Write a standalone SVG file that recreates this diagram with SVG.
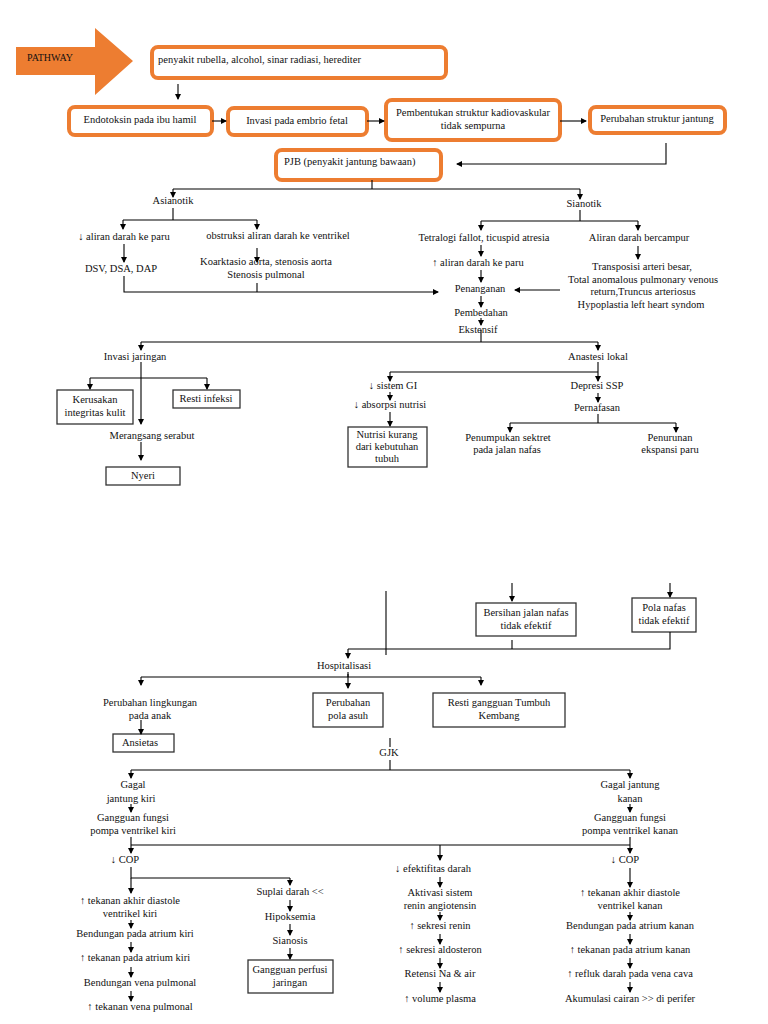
<svg xmlns="http://www.w3.org/2000/svg" width="768" height="1024" viewBox="0 0 768 1024">
<defs>
<marker id="a" markerWidth="6" markerHeight="6" refX="5" refY="3" orient="auto" markerUnits="userSpaceOnUse"><path d="M0,0 L6,3 L0,6 Z" fill="#000"/></marker>
<style>
text{font-family:"Liberation Serif",serif;font-size:10.5px;fill:#111}
.m{text-anchor:middle}
.ob{fill:#fff;stroke:#ed7d31;stroke-width:4}
.bx{fill:#fff;stroke:#333;stroke-width:1.3}
#conn path{fill:none;stroke:#000;stroke-width:1.1}
.ar{marker-end:url(#a)}
</style>
</defs>
<rect width="768" height="1024" fill="#fff"/>
<g id="pathway"><polygon points="16,47 95,47 95,28 133,61 95,95 95,75 16,75" fill="#ed7d31"/><text x="27" y="61" style="font-size:10px">PATHWAY</text></g>
<g id="n1"><rect class="ob" x="152" y="47" width="294" height="31" rx="6"/><text x="158" y="63">penyakit rubella, alcohol, sinar radiasi, herediter</text></g>
<g id="n2"><rect class="ob" x="69" y="107" width="143" height="28" rx="6"/><text class="m" x="140" y="123">Endotoksin pada ibu hamil</text></g>
<g id="n3"><rect class="ob" x="228" y="108" width="139" height="27" rx="6"/><text class="m" x="297" y="124">Invasi pada embrio fetal</text></g>
<g id="n4"><rect class="ob" x="386" y="100" width="174" height="40" rx="6"/><text class="m" x="473" y="116">Pembentukan struktur kadiovaskular</text><text class="m" x="473" y="129">tidak sempurna</text></g>
<g id="n5"><rect class="ob" x="590" y="107" width="135" height="26" rx="6"/><text class="m" x="657" y="122">Perubahan struktur jantung</text></g>
<g id="n6"><rect class="ob" x="276" y="150" width="165" height="30" rx="6"/><text x="284" y="165">PJB (penyakit jantung bawaan)</text></g>

<g id="labels">
<text class="m" x="173" y="204">Asianotik</text>
<text class="m" x="584" y="207">Sianotik</text>
<text class="m" x="124" y="240">↓ aliran darah ke paru</text>
<text class="m" x="278" y="239">obstruksi aliran darah ke ventrikel</text>
<text class="m" x="121" y="272">DSV, DSA, DAP</text>
<text class="m" x="266" y="265">Koarktasio aorta, stenosis aorta</text>
<text class="m" x="266" y="278">Stenosis pulmonal</text>
<text class="m" x="484" y="241">Tetralogi fallot, ticuspid atresia</text>
<text class="m" x="639" y="241">Aliran darah bercampur</text>
<text class="m" x="478" y="266">↑ aliran darah ke paru</text>
<text class="m" x="480" y="292">Penanganan</text>
<text class="m" x="642" y="270">Transposisi arteri besar,</text>
<text class="m" x="643" y="283">Total anomalous pulmonary venous</text>
<text class="m" x="643" y="295">return,Truncus arteriosus</text>
<text class="m" x="641" y="308">Hypoplastia left heart syndom</text>
<text class="m" x="481" y="316">Pembedahan</text>
<text class="m" x="478" y="333">Ekstensif</text>
<text class="m" x="135" y="360">Invasi jaringan</text>
<text class="m" x="598" y="360">Anastesi lokal</text>
<text class="m" x="152" y="439">Merangsang serabut</text>
<text class="m" x="393" y="389">↓ sistem GI</text>
<text class="m" x="390" y="408">↓ absorpsi nutrisi</text>
<text class="m" x="597" y="389">Depresi SSP</text>
<text class="m" x="597" y="411">Pernafasan</text>
<text class="m" x="508" y="441">Penumpukan sektret</text>
<text class="m" x="507" y="453">pada jalan nafas</text>
<text class="m" x="670" y="441">Penurunan</text>
<text class="m" x="670" y="453">ekspansi paru</text>
<text class="m" x="344" y="669">Hospitalisasi</text>
<text class="m" x="150" y="706">Perubahan lingkungan</text>
<text class="m" x="150" y="719">pada anak</text>
<text class="m" x="389" y="756">GJK</text>
<text class="m" x="133" y="788">Gagal</text>
<text class="m" x="131" y="802">jantung kiri</text>
<text class="m" x="630" y="788">Gagal jantung</text>
<text class="m" x="630" y="802">kanan</text>
<text class="m" x="133" y="821">Gangguan fungsi</text>
<text class="m" x="133" y="834">pompa ventrikel kiri</text>
<text class="m" x="630" y="821">Gangguan fungsi</text>
<text class="m" x="630" y="834">pompa ventrikel kanan</text>
<text class="m" x="125" y="863">↓ COP</text>
<text class="m" x="433" y="872">↓ efektifitas darah</text>
<text class="m" x="625" y="863">↓ COP</text>
<text class="m" x="130" y="904">↑ tekanan akhir diastole</text>
<text class="m" x="130" y="917">ventrikel kiri</text>
<text class="m" x="135" y="937">Bendungan pada atrium kiri</text>
<text class="m" x="135" y="961">↑ tekanan pada atrium kiri</text>
<text class="m" x="140" y="986">Bendungan vena pulmonal</text>
<text class="m" x="140" y="1010">↑ tekanan vena pulmonal</text>
<text class="m" x="290" y="895">Suplai darah &lt;&lt;</text>
<text class="m" x="290" y="920">Hipoksemia</text>
<text class="m" x="290" y="944">Sianosis</text>
<text class="m" x="440" y="896">Aktivasi sistem</text>
<text class="m" x="440" y="909">renin angiotensin</text>
<text class="m" x="440" y="929">↑ sekresi renin</text>
<text class="m" x="440" y="953">↑ sekresi aldosteron</text>
<text class="m" x="440" y="977">Retensi Na &amp; air</text>
<text class="m" x="440" y="1002">↑ volume plasma</text>
<text class="m" x="630" y="896">↑ tekanan akhir diastole</text>
<text class="m" x="630" y="909">ventrikel kanan</text>
<text class="m" x="630" y="929">Bendungan pada atrium kanan</text>
<text class="m" x="630" y="953">↑ tekanan pada atrium kanan</text>
<text class="m" x="630" y="977">↑ refluk darah pada vena cava</text>
<text class="m" x="630" y="1002">Akumulasi cairan &gt;&gt; di perifer</text>
</g>

<g id="kerusakan"><rect class="bx" x="57" y="390" width="76" height="34"/><text class="m" x="95" y="403">Kerusakan</text><text class="m" x="95" y="416">integritas kulit</text></g>
<g id="resti"><rect class="bx" x="173" y="390" width="67" height="18"/><text class="m" x="206" y="402">Resti infeksi</text></g>
<g id="nyeri"><rect class="bx" x="106" y="467" width="74" height="18"/><text class="m" x="143" y="479">Nyeri</text></g>
<g id="nutrisi"><rect class="bx" x="348" y="427" width="79" height="40"/><text class="m" x="387" y="438">Nutrisi kurang</text><text class="m" x="387" y="450">dari kebutuhan</text><text class="m" x="387" y="462">tubuh</text></g>
<g id="bersihan"><rect class="bx" x="476" y="603" width="100" height="33"/><text class="m" x="526" y="616">Bersihan jalan nafas</text><text class="m" x="526" y="629">tidak efektif</text></g>
<g id="pola"><rect class="bx" x="632" y="598" width="64" height="34"/><text class="m" x="664" y="611">Pola nafas</text><text class="m" x="664" y="624">tidak efektif</text></g>
<g id="ansietas"><rect class="bx" x="113" y="734" width="61" height="18"/><text class="m" x="140" y="746">Ansietas</text></g>
<g id="polaasuh"><rect class="bx" x="313" y="693" width="70" height="34"/><text class="m" x="348" y="706">Perubahan</text><text class="m" x="348" y="719">pola asuh</text></g>
<g id="tumbuh"><rect class="bx" x="433" y="693" width="132" height="34"/><text class="m" x="499" y="706">Resti gangguan Tumbuh</text><text class="m" x="499" y="719">Kembang</text></g>
<g id="perfusi"><rect class="bx" x="248" y="960" width="85" height="33"/><text class="m" x="290" y="973">Gangguan perfusi</text><text class="m" x="290" y="986">jaringan</text></g>

<g id="conn">
<path class="ar" d="M178,84 V99"/>
<path class="ar" d="M212,121 H226"/>
<path class="ar" d="M367,121 H384"/>
<path class="ar" d="M560,121 H586"/>
<path class="ar" d="M666,143 V164 H457"/>
<path d="M372,180 V189 M173,189 H580"/>
<path class="ar" d="M173,189 V197"/><path class="ar" d="M580,189 V199"/>
<path d="M173,208 V220 M123,220 H257"/>
<path class="ar" d="M123,220 V229"/><path class="ar" d="M257,220 V229"/>
<path class="ar" d="M124,244 V262"/><path class="ar" d="M257,248 V262"/>
<path class="ar" d="M124,276 V292 H438"/><path d="M257,283 V292"/>
<path d="M580,210 V221 M481,221 H638"/>
<path class="ar" d="M481,221 V230"/><path class="ar" d="M638,221 V230"/>
<path class="ar" d="M481,245 V256"/><path class="ar" d="M481,270 V282"/>
<path class="ar" d="M638,246 V259"/>
<path class="ar" d="M560,290 H515"/>
<path class="ar" d="M481,296 V307"/><path class="ar" d="M481,318 V325"/>
<path d="M481,330 V342 M141,342 H598"/>
<path class="ar" d="M141,342 V350"/><path class="ar" d="M598,342 V350"/>
<path class="ar" d="M141,362 V424"/>
<path d="M90,378 H207"/>
<path class="ar" d="M90,378 V389"/><path class="ar" d="M207,378 V389"/>
<path class="ar" d="M141,442 V460"/>
<path d="M598,362 V372 M390,372 H598"/>
<path class="ar" d="M390,372 V381"/><path class="ar" d="M598,372 V381"/>
<path class="ar" d="M390,392 V400"/><path class="ar" d="M390,412 V426"/>
<path class="ar" d="M598,393 V402"/>
<path d="M598,414 V423 M510,423 H676"/>
<path class="ar" d="M510,423 V432"/><path class="ar" d="M676,423 V432"/>
<path d="M386,591 V655"/>
<path class="ar" d="M512,583 V601"/><path class="ar" d="M670,583 V597"/>
<path d="M512,640 V649 M670,632 V649 H348"/>
<path class="ar" d="M348,649 V658"/>
<path d="M348,674 V677 M141,677 H481"/>
<path class="ar" d="M141,677 V685"/><path class="ar" d="M348,672 V688"/><path class="ar" d="M481,677 V685"/>
<path class="ar" d="M141,720 V734"/>
<path d="M390,738 V747 M390,760 V770 M131,770 H630"/>
<path class="ar" d="M131,770 V778"/><path class="ar" d="M630,770 V778"/>
<path class="ar" d="M131,804 V812"/><path class="ar" d="M630,804 V812"/>
<path class="ar" d="M131,837 V853"/><path d="M131,845 H630"/>
<path class="ar" d="M440,845 V860"/><path class="ar" d="M630,837 V853"/>
<path d="M131,867 V878 H290"/>
<path class="ar" d="M131,878 V893"/><path class="ar" d="M290,878 V885"/>
<path class="ar" d="M131,920 V928"/><path class="ar" d="M131,942 V952"/><path class="ar" d="M131,967 V977"/><path class="ar" d="M131,991 V1001"/>
<path class="ar" d="M290,900 V911"/><path class="ar" d="M290,924 V935"/><path class="ar" d="M290,948 V959"/>
<path class="ar" d="M440,877 V887"/><path class="ar" d="M440,912 V920"/><path class="ar" d="M440,934 V944"/><path class="ar" d="M440,958 V968"/><path class="ar" d="M440,982 V992"/>
<path class="ar" d="M630,868 V887"/><path class="ar" d="M630,912 V920"/><path class="ar" d="M630,934 V944"/><path class="ar" d="M630,958 V968"/><path class="ar" d="M630,982 V992"/>
</g>
</svg>
